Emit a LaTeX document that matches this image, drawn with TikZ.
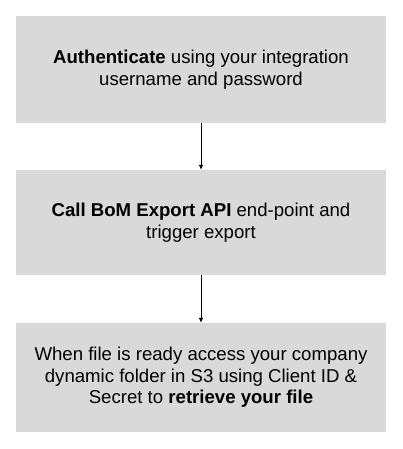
\documentclass[tikz,border=0pt]{standalone}
\usepackage{fontspec}
\setmainfont{Liberation Sans}
\usetikzlibrary{arrows.meta}
\definecolor{boxgray}{HTML}{D9D9D9}
\tikzset{
  stepbox/.style={fill=boxgray, draw=none, minimum width=370pt, align=center,
    font=\fontsize{18.6}{21.5}\selectfont, inner sep=0pt},
  flowarrow/.style={draw=black, line width=0.8pt, -{Latex[length=5pt,width=4.5pt]}}
}
\begin{document}
\begin{tikzpicture}[x=1pt,y=1pt]
\useasboundingbox (0,0) rectangle (402,-449);
\node[stepbox, minimum height=107pt] (a) at (201,-69.5)
  {\textbf{Authenticate} using your integration\\username and password};
\node[stepbox, minimum height=105pt] (b) at (201,-222.5)
  {\textbf{Call BoM Export API} end-point and\\trigger export};
\node[stepbox, minimum height=109pt] (c) at (201,-377.5)
  {When file is ready access your company\\dynamic folder in S3 using Client ID \&\\Secret to \textbf{retrieve your file}};
\draw[flowarrow] (a) -- (b);
\draw[flowarrow] (b) -- (c);
\end{tikzpicture}
\end{document}
